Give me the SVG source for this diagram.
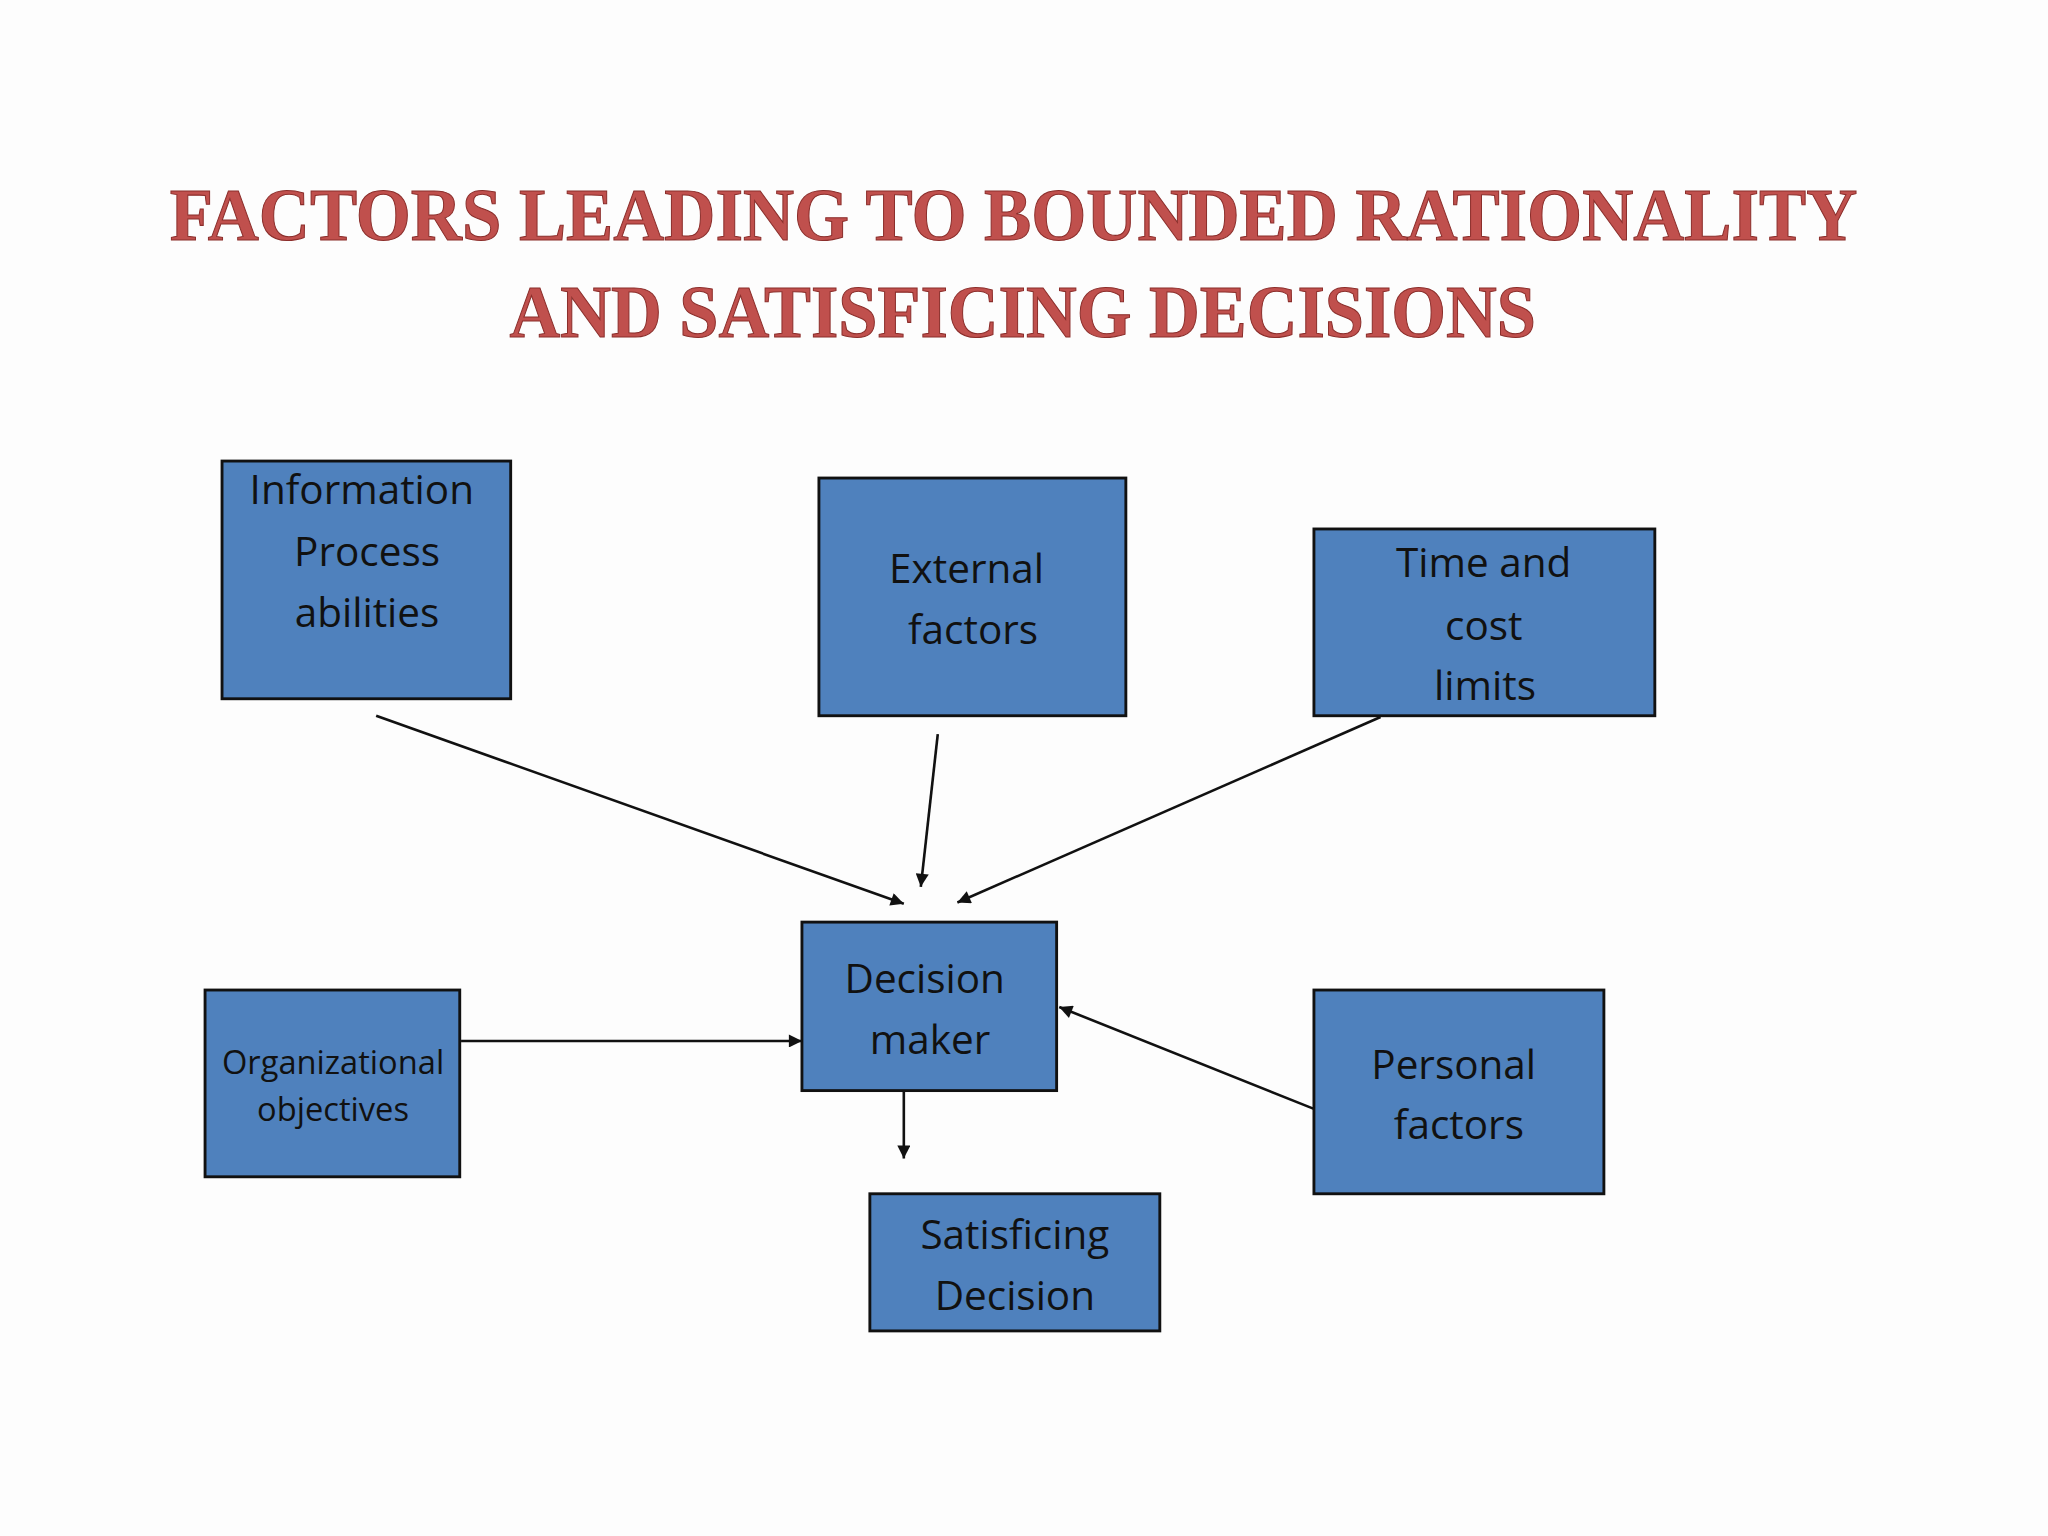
<svg xmlns="http://www.w3.org/2000/svg" width="2048" height="1536" viewBox="0 0 2048 1536">
<style>
.box{fill:#4f81bd;stroke:#111;stroke-width:2.2}
.t{font-family:"Open Sans","Liberation Sans",sans-serif;font-size:31px;fill:#111;text-anchor:middle}
.s{font-size:25px}
.title{font-family:"Liberation Serif",serif;font-weight:bold;font-size:56px;fill:#c0504d;stroke:#8b2e2b;stroke-width:0.8;text-anchor:middle}
.c{stroke:#111;stroke-width:2;fill:none;marker-end:url(#ah)}
</style>
<defs><marker id="ah" viewBox="0 0 10 10" refX="10" refY="5" markerWidth="11" markerHeight="10" orient="auto" markerUnits="userSpaceOnUse"><path d="M0,0L10,5L0,10z" fill="#111"/></marker></defs>
<rect width="2048" height="1536" fill="#fdfdfd"/>
<g transform="scale(1.3061)">
<g id="title">
<text class="title" x="776" y="184" textLength="1292" lengthAdjust="spacingAndGlyphs">FACTORS LEADING TO BOUNDED RATIONALITY</text>
<text class="title" x="783" y="258" textLength="786" lengthAdjust="spacingAndGlyphs">AND SATISFICING DECISIONS</text>
</g>
<g id="connectors">
<line class="c" x1="288" y1="548" x2="692" y2="692"/>
<line class="c" x1="718" y1="562" x2="705" y2="679"/>
<line class="c" x1="1057" y1="549" x2="733" y2="691"/>
<line class="c" x1="353" y1="797" x2="614" y2="797"/>
<line class="c" x1="1006" y1="849" x2="811" y2="771"/>
<line class="c" x1="692" y1="836" x2="692" y2="887"/>
</g>
<g id="info"><rect class="box" x="170" y="353" width="221" height="182"/>
<text class="t" x="277" y="386">Information</text><text class="t" x="281" y="433">Process</text><text class="t" x="281" y="480">abilities</text></g>
<g id="external"><rect class="box" x="627" y="366" width="235" height="182"/>
<text class="t" x="740" y="446">External</text><text class="t" x="745" y="493">factors</text></g>
<g id="time"><rect class="box" x="1006" y="405" width="261" height="143"/>
<text class="t" x="1136" y="442">Time and</text><text class="t" x="1136" y="490">cost</text><text class="t" x="1137" y="536">limits</text></g>
<g id="decision"><rect class="box" x="614" y="706" width="195" height="129"/>
<text class="t" x="708" y="760">Decision</text><text class="t" x="712" y="807">maker</text></g>
<g id="org"><rect class="box" x="157" y="758" width="195" height="143"/>
<text class="t s" x="255" y="822">Organizational</text><text class="t s" x="255" y="858">objectives</text></g>
<g id="personal"><rect class="box" x="1006" y="758" width="222" height="156"/>
<text class="t" x="1113" y="826">Personal</text><text class="t" x="1117" y="872">factors</text></g>
<g id="satisficing"><rect class="box" x="666" y="914" width="222" height="105"/>
<text class="t" x="777" y="956">Satisficing</text><text class="t" x="777" y="1003">Decision</text></g>
</g>
</svg>
